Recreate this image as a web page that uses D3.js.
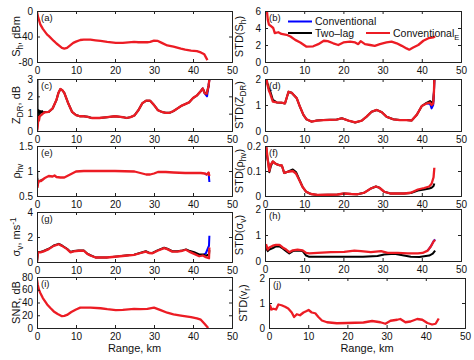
<!DOCTYPE html>
<html><head><meta charset="utf-8">
<script src="https://cdn.jsdelivr.net/npm/d3@7"></script>
<style>body{margin:0;background:#fff}svg{display:block;font-family:Arial,"Liberation Sans",sans-serif}</style>
</head><body><svg id="c" width="474" height="360"></svg>
<script>
// ---------------- DATA ----------------
const xTicks = [0, 10, 20, 30, 40, 50];
const seriesNames = ["Conventional", "Two\u2013lag", "Conventional"];

// (a) S_h, dBm
const rangeA = [0,0.3,0.6,0.85,1.5,2.6,3,4.3,5,6,6.4,7,7.7,8.5,9.3,10,11.1,12,13.7,15,16.3,18,20.2,22,24.9,26,28.3,29,30,31,32,33.4,35,36.9,38,39.5,41,42,42.9,43.7];
const shE    = [-1,-10,-16,-21,-28,-37,-39,-47,-51,-56,-58,-59,-58,-54,-50,-48,-45.5,-45,-45,-46,-47,-48.5,-50,-50,-48.5,-49,-49,-48.5,-46.5,-47,-50,-54,-56,-59,-60.5,-62,-63,-65,-68,-77];

// (b) STD(S_h)
const rangeB = [0.5,0.7,1,1.3,2.1,2.5,3.4,4.2,5.5,6.5,7.7,9,10.6,12.3,13.6,15,16,17.4,18.7,20,21.7,23,23.8,24.4,25.5,26.8,28,29.3,31,32.3,33.6,34.9,36.1,36.8,37.8,39.1,40.4,41.7,42.9,43.4];
const stdShE = [6,5,4.4,4.3,4.0,3.4,3.5,3.3,3.2,3.0,2.6,2.3,1.8,1.85,2.1,2.5,2.45,2.2,2.0,2.3,2.4,2.3,2.1,2.45,2.1,2.0,1.9,2.1,2.3,2.4,2.2,1.9,1.6,1.45,1.7,2.0,2.5,2.8,2.9,3.0];

// (c) Z_DR, dB
const rangeC   = [0,0.1,0.2,0.35,0.5,0.7,1,1.5,2,3,4,5,5.5,6,6.5,7,8,9,10,11,12,13,14,16,18,20,22,23,24,25,26,27,28,29,30,31,32,33,34,35,36,37,38,39,40,41,42,42.5,43,43.5,44,44.2];
const zdrE     = [0,0.1,0.3,0.8,0.6,0.85,0.9,1.0,1.08,1.1,1.3,1.8,2.2,2.42,2.35,2.2,1.6,1.1,0.92,0.85,0.85,0.82,0.75,0.75,0.8,0.85,0.8,0.75,0.8,0.9,1.2,1.6,1.75,1.75,1.5,1.2,1.1,1.05,1.05,1.15,1.3,1.45,1.55,1.65,1.9,2.05,2.3,2.45,2.17,2.15,2.6,3.0];
const rangeCk  = [0,0.08,0.1,0.15,0.25,0.4,0.6,0.8,1,1.3,1.6,2,3,4,5,5.5,6,6.5,7,8,9,10,11,12,13,14,16,18,20,22,23,24,25,26,27,28,29,30,31,32,33,34,35,36,37,38,39,40,41,42,42.5,43,43.5,44,44.2];
const zdrTwo   = [0,0.5,3.0,0.6,0.9,1.2,0.9,1.15,1.05,1.15,1.05,1.1,1.1,1.3,1.8,2.2,2.42,2.35,2.2,1.6,1.1,0.92,0.85,0.85,0.82,0.75,0.75,0.8,0.85,0.8,0.75,0.8,0.9,1.2,1.6,1.75,1.75,1.5,1.2,1.1,1.05,1.05,1.15,1.3,1.45,1.55,1.65,1.9,2.05,2.3,2.45,2.2,2.15,2.6,3.0];
const rangeCb  = [42,42.5,43,43.6,44,44.2];
const zdrConv  = [2.3,2.45,2.17,2.0,2.6,3.0];

// (d) STD(Z_DR)
const rangeD    = [0.4,0.6,1,1.3,2,3,4.2,5.1,6,6.8,8.1,8.9,9.8,10.6,11.9,13.2,14.9,18.3,19.6,21.3,23,24.7,25.9,27.2,28.5,29.8,31,32.7,34.4,36.1,37.4,38.7,40,41.2,42.1,42.5,42.9,43.1,43.2];
const stdZdrE   = [2.0,1.8,1.55,1.45,1.13,1.1,1.09,1.06,1.51,1.47,1.26,0.94,0.62,0.45,0.36,0.4,0.42,0.44,0.49,0.4,0.33,0.4,0.55,0.74,0.81,0.72,0.55,0.45,0.42,0.42,0.4,0.62,0.96,1.06,1.09,1.0,1.05,1.5,2.0];
const stdZdrTwo = [2.0,1.85,1.62,1.55,1.2,1.1,1.09,1.06,1.51,1.47,1.26,0.94,0.62,0.45,0.36,0.4,0.42,0.44,0.49,0.4,0.33,0.4,0.55,0.74,0.81,0.72,0.55,0.45,0.42,0.42,0.4,0.62,0.96,1.08,1.15,1.1,1.12,1.5,2.0];
const rangeDb   = [41.2,42.1,42.5,42.9,43.1,43.2];
const stdZdrConv= [1.06,1.05,0.87,1.0,1.5,2.0];

// (e) rho_hv
const rangeE   = [0.1,0.15,0.3,0.5,1,1.5,2,3,4,4.5,5,6,7,8,9,10,12,15,20,25,26,27,28,29,30,31,33,35,38,40,42,43,43.5,44,44.2];
const rhoE     = [0.72,0.68,0.78,0.8,0.8,0.83,0.86,0.9,0.89,0.91,0.88,0.87,0.87,0.91,0.95,0.99,1.0,1.0,1.0,0.99,0.97,0.95,0.93,0.93,0.95,0.98,0.98,0.97,0.96,0.96,0.96,0.95,0.93,0.97,0.9];
const rangeEk  = [0,0.05,0.08,0.12,0.2,0.4,0.8,1.5];
const rhoTwo   = [0.7,1.0,0.75,0.85,0.72,0.8,0.8,0.83];
const rangeEb  = [43,43.5,44,44.2];
const rhoConv  = [0.95,0.93,0.96,0.78];

// (f) STD(rho_hv)
const rangeF     = [0.3,0.6,0.9,1.1,1.5,2,2.8,3.7,4.3,4.9,5.8,7.1,7.9,8.8,9.6,10.5,11.7,13.4,16,18.5,20.2,22,23.6,25.3,27,28.3,29.2,30.4,32,35.5,37.2,39,40.6,41.9,42.5,43,43.2];
const stdRhoE    = [0.2,0.16,0.12,0.1,0.126,0.138,0.128,0.123,0.122,0.092,0.097,0.1,0.09,0.062,0.036,0.017,0.008,0.004,0.005,0.006,0.01,0.008,0.007,0.013,0.03,0.038,0.033,0.017,0.01,0.01,0.013,0.026,0.032,0.038,0.049,0.075,0.113];
const stdRhoTwo  = [0.2,0.15,0.13,0.095,0.12,0.138,0.128,0.123,0.122,0.092,0.097,0.106,0.096,0.064,0.036,0.017,0.008,0.004,0.005,0.006,0.01,0.008,0.007,0.013,0.03,0.038,0.033,0.017,0.01,0.01,0.012,0.022,0.026,0.03,0.033,0.04,0.05];

// (g) sigma_v, m/s
const rangeG    = [0,0.25,0.9,1.7,3,4.3,5.6,6.4,7.7,8.6,9.4,10.7,12,12.9,13.7,15,18,20.6,23.2,24.9,26.6,27.9,28.7,29.6,30.9,32.6,33.4,34.7,36,37.3,38.2,39,40.3,41.6,42.5,43.3,44.1,44.2];
const sigmaE    = [0,0.77,0.77,0.85,1.03,1.29,1.42,1.29,1.03,0.77,0.85,0.9,0.9,0.65,0.52,0.36,0.36,0.44,0.52,0.57,0.72,0.83,0.72,0.7,0.9,1.11,1.03,0.83,0.83,0.9,0.98,0.83,0.65,0.46,0.52,0.39,0.3,1.16];
const sigmaTwo  = [0,0.8,0.8,0.88,1.06,1.32,1.45,1.32,1.06,0.8,0.88,0.93,0.93,0.67,0.54,0.37,0.37,0.45,0.54,0.59,0.74,0.86,0.74,0.72,0.93,1.14,1.06,0.86,0.86,0.93,1.0,0.9,0.78,0.6,0.6,0.5,0.6,0.95];
const rangeGb   = [41.6,42.5,43.3,43.7,44.1,44.2];
const sigmaConv = [0.5,0.55,0.7,1.0,1.3,2.1];

// (h) STD(sigma_v)
const rangeH     = [0.25,0.7,1.1,2,2.8,3.7,4.5,5.4,6.2,7.1,8.3,9.6,10.5,11.3,13.4,16.8,20.2,22.8,24.5,27,29.6,31.3,33.8,36.4,39,40.2,41.5,42.3,43,43.4];
const stdSigE    = [0.65,0.44,0.52,0.59,0.62,0.62,0.52,0.44,0.34,0.41,0.44,0.41,0.31,0.29,0.31,0.34,0.35,0.4,0.38,0.34,0.38,0.31,0.31,0.29,0.29,0.31,0.4,0.56,0.75,0.81];
const rangeHk    = [0.25,0.7,1.1,2,2.8,3.7,4.5,5.4,6.2,7.1,8.3,9.6,10.5,11.3,13.4,20,25,28.7,30.4,33,35.1,37.2,39.4,40.6,41.9,42.8,43.4];
const stdSigTwo  = [0.5,0.38,0.44,0.5,0.56,0.56,0.48,0.38,0.29,0.38,0.4,0.38,0.21,0.16,0.16,0.16,0.16,0.19,0.25,0.28,0.22,0.16,0.15,0.18,0.21,0.28,0.4];
const rangeHb    = [41.5,42.3,43,43.4];
const stdSigConv = [0.4,0.56,0.76,0.83];

// (i) SNR, dB
const rangeI = [0,0.2,0.5,0.85,1.5,2.6,3.5,4.3,5.3,6.4,7,7.7,8.8,10,11.1,13.7,16.3,18,20.2,22,24.9,26.5,28.3,30,31.7,33.4,35,36.9,39.5,41,42,42.9,43.9];
const snr    = [76,68,60,55,47,37,31,26,22,18.5,19,20.5,25,29,32,32,31,29.5,28,28.5,30,29.5,30,32,28,24,21.5,19.5,17,15,13,7,0];

// (j) STD(v_r)
const rangeJ = [0.05,0.25,0.7,1.1,1.8,2.4,3.2,4.1,4.9,5.8,6.4,7.1,7.9,8.8,9.6,10.1,10.9,11.8,12.6,13.5,14.8,17.3,19.9,24.1,26.3,28.4,29.7,31,32.7,33.5,34.8,36.1,37.8,39.1,40.4,41.6,42.5,43.3];
const stdVr  = [0.68,0.9,0.74,0.77,0.74,0.94,0.91,0.85,0.78,0.62,0.44,0.55,0.51,0.62,0.68,0.72,0.62,0.59,0.44,0.3,0.23,0.19,0.2,0.22,0.28,0.23,0.17,0.29,0.33,0.36,0.23,0.26,0.36,0.33,0.2,0.14,0.17,0.38];

// ---------------- DRAWING ----------------
const BLUE = "#0000ff", BLACK = "#000000", RED = "#ec1c24";
const svg = d3.select("#c");
const FS = 10;

function richText(sel, parts, size) {
  let pending = 0;
  parts.forEach(p => {
    const t = sel.append("tspan").text(p[0]);
    let dy = pending;
    pending = 0;
    if (p[1] === "sub") { dy += size * 0.3; pending = -size * 0.3; t.attr("font-size", size * 0.75); }
    else if (p[1] === "sup") { dy -= size * 0.4; pending = size * 0.4; t.attr("font-size", size * 0.75); }
    if (dy !== 0) t.attr("dy", dy);
  });
}

const panels = [
  {tag:"(a)", px:[37,232], py:[11,62], yd:[-80,0], yt:[-80,-40,0], lab:[["S"],["h","sub"],[", dBm"]], lx:20,
   s:[[rangeA, shE, RED]]},
  {tag:"(b)", px:[265,461], py:[11,62], yd:[0,6], yt:[0,2,4,6], lab:[["STD(S"],["h","sub"],[")"]], lx:243, legend:true,
   s:[[rangeB, stdShE, RED]]},
  {tag:"(c)", px:[37,232], py:[79,131], yd:[0,3], yt:[0,1,2,3], lab:[["Z"],["DR","sub"],[", dB"]], lx:20,
   s:[[rangeCb, zdrConv, BLUE],[rangeCk, zdrTwo, BLACK],[rangeC, zdrE, RED]]},
  {tag:"(d)", px:[265,461], py:[79,131], yd:[0,2], yt:[0,1,2], lab:[["STD(Z"],["DR","sub"],[")"]], lx:243,
   s:[[rangeDb, stdZdrConv, BLUE],[rangeD, stdZdrTwo, BLACK],[rangeD, stdZdrE, RED]]},
  {tag:"(e)", px:[37,232], py:[146,196], yd:[0.5,1.5], yt:[0.5,1,1.5], lab:[["\u03c1"],["hv","sub"]], lx:20,
   s:[[rangeEb, rhoConv, BLUE],[rangeEk, rhoTwo, BLACK],[rangeE, rhoE, RED]]},
  {tag:"(f)", px:[265,461], py:[146,196], yd:[0,0.2], yt:[0,0.1,0.2], lab:[["STD(\u03c1"],["hv","sub"],[")"]], lx:243,
   s:[[rangeF, stdRhoTwo, BLACK],[rangeF, stdRhoE, RED]]},
  {tag:"(g)", px:[37,232], py:[212,262], yd:[0,4], yt:[0,2,4], lab:[["\u03c3"],["v","sub"],[", ms"],["-1","sup"]], lx:20,
   s:[[rangeGb, sigmaConv, BLUE],[rangeG, sigmaTwo, BLACK],[rangeG, sigmaE, RED]]},
  {tag:"(h)", px:[265,461], py:[209,261], yd:[0,2], yt:[0,1,2], lab:[["STD(\u03c3"],["v","sub"],[")"]], lx:243,
   s:[[rangeHb, stdSigConv, BLUE],[rangeHk, stdSigTwo, BLACK],[rangeH, stdSigE, RED]]},
  {tag:"(i)", px:[37,232], py:[277,328], yd:[0,80], yt:[0,20,40,60,80], lab:[["SNR, dB"]], lx:20, xlab:true,
   s:[[rangeI, snr, RED]]},
  {tag:"(j)", px:[269,465], py:[278,328], yd:[0,2], yt:[0,1,2], lab:[["STD(v"],["r","sub"],[")"]], lx:247, xlab:true,
   s:[[rangeJ, stdVr, RED]]}
];

panels.forEach(p => {
  const x = d3.scaleLinear().domain([0, 50]).range(p.px);
  const y = d3.scaleLinear().domain(p.yd).range([p.py[1], p.py[0]]);
  const g = svg.append("g");
  const clipId = "clip" + p.tag.replace(/\W/g, "");
  svg.append("clipPath").attr("id", clipId).append("rect")
    .attr("x", p.px[0]).attr("y", p.py[0]).attr("width", p.px[1] - p.px[0]).attr("height", p.py[1] - p.py[0]);

  // lines
  const lg = g.append("g").attr("clip-path", `url(#${clipId})`);
  p.s.forEach(([xs, ys, col]) => {
    const pts = xs.map((v, i) => [v, ys[i]]);
    lg.append("path").datum(pts)
      .attr("fill", "none").attr("stroke", col).attr("stroke-width", col === RED ? 2.3 : 2)
      .attr("stroke-linejoin", "round")
      .attr("d", d3.line().x(d => x(d[0])).y(d => y(d[1])));
  });

  // axes (ticks inward, box)
  const bottom = g.append("g").attr("transform", `translate(0,${p.py[1]})`)
    .call(d3.axisBottom(x).tickValues(xTicks).tickSize(-3).tickPadding(5).tickFormat(d3.format("d")));
  const top = g.append("g").attr("transform", `translate(0,${p.py[0]})`)
    .call(d3.axisTop(x).tickValues(xTicks).tickSize(-3).tickFormat(""));
  const left = g.append("g").attr("transform", `translate(${p.px[0]},0)`)
    .call(d3.axisLeft(y).tickValues(p.yt).tickSize(-3).tickPadding(4).tickFormat(d => String(d)));
  const right = g.append("g").attr("transform", `translate(${p.px[1]},0)`)
    .call(d3.axisRight(y).tickValues(p.yt).tickSize(-3).tickFormat(""));
  [bottom, top, left, right].forEach(a => {
    a.select(".domain").attr("stroke", "#222").attr("stroke-width", 1);
    a.selectAll(".tick line").attr("stroke", "#222");
    a.selectAll("text").attr("font-size", FS).attr("font-family", "Arial, 'Liberation Sans', sans-serif").attr("fill", "#111");
  });

  // panel tag
  g.append("text").attr("x", p.px[0] + 4).attr("y", p.py[0] + 10)
    .attr("font-size", 9.5).attr("fill", "#111").text(p.tag);

  // y label
  const cy = (p.py[0] + p.py[1]) / 2;
  const yl = g.append("text").attr("transform", `translate(${p.lx},${cy}) rotate(-90)`)
    .attr("text-anchor", "middle").attr("font-size", FS + 1).attr("fill", "#111");
  richText(yl, p.lab, FS + 1);

  if (p.xlab) {
    g.append("text").attr("x", (p.px[0] + p.px[1]) / 2).attr("y", p.py[1] + 24)
      .attr("text-anchor", "middle").attr("font-size", FS + 1).attr("fill", "#111").text("Range, km");
  }

  if (p.legend) {
    const items = [
      {x1: 288, x2: 312, yy: 21.5, col: BLUE, name: seriesNames[0], sub: ""},
      {x1: 288, x2: 312, yy: 33, col: BLACK, name: seriesNames[1], sub: ""},
      {x1: 366, x2: 390, yy: 33, col: RED, name: seriesNames[2], sub: "E"}
    ];
    items.forEach(it => {
      g.append("line").attr("x1", it.x1).attr("x2", it.x2).attr("y1", it.yy).attr("y2", it.yy)
        .attr("stroke", it.col).attr("stroke-width", 2);
      const t = g.append("text").attr("x", it.x2 + 3).attr("y", it.yy + 3.5)
        .attr("font-size", FS + 0.5).attr("fill", "#111");
      t.append("tspan").text(it.name);
      if (it.sub) t.append("tspan").attr("dy", 3).attr("font-size", 7.5).text(it.sub);
    });
  }
});
</script>
</body></html>
